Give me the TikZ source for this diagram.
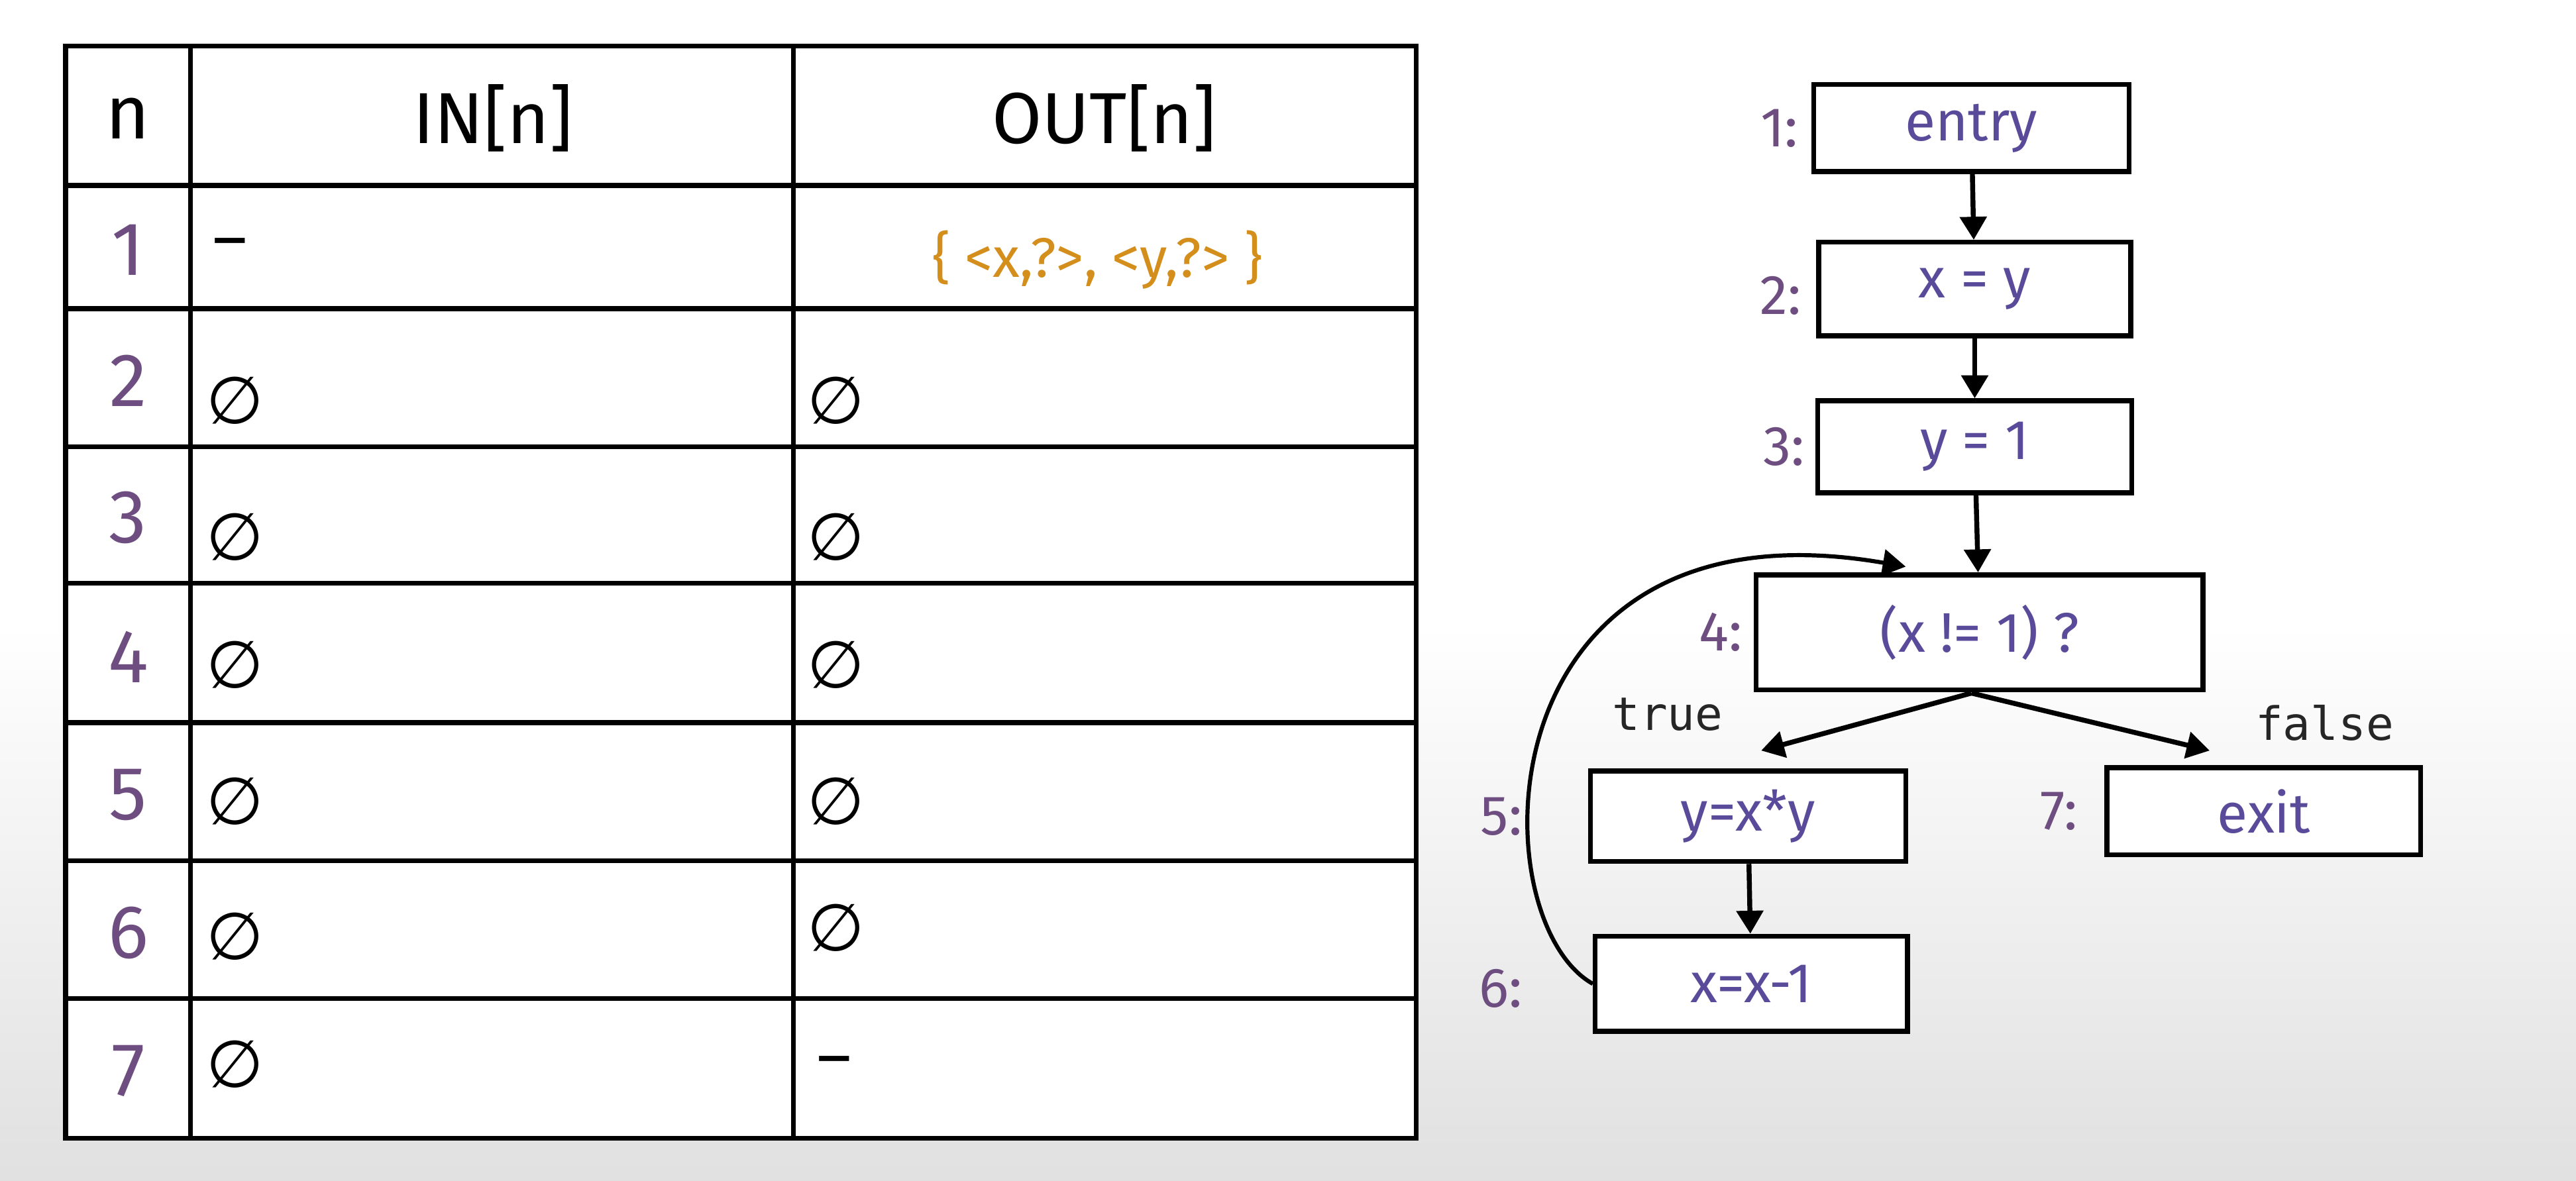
\documentclass[tikz,border=0pt]{standalone}
\usepackage{fontspec}
\setmainfont{Fira Sans}
\setmonofont{DejaVu Sans Mono}
\newfontfamily\symf{DejaVu Sans}
\usetikzlibrary{arrows.meta}
\definecolor{pur}{HTML}{5A4A9A}
\definecolor{lab}{HTML}{6E4E80}
\definecolor{org}{HTML}{D48E1C}
\tikzset{
 box/.style={draw,line width=3pt,fill=white,text=pur,font=\fontsize{34}{38}\selectfont},
 lbl/.style={text=lab,font=\fontsize{34}{38}\selectfont,anchor=east},
 num/.style={text=lab,font=\fontsize{46}{50}\selectfont},
 es/.style={font=\symf\fontsize{40}{44}\selectfont,anchor=west},
 arr/.style={line width=3pt,-{Triangle[length=14pt,width=16pt]}},
 grid/.style={line width=3pt}
}
\begin{document}
\begin{tikzpicture}[x=1pt,y=-1pt]
\useasboundingbox (0,0) rectangle (1568,719);
\shade[top color=white,bottom color=white,middle color=white] (0,0) rectangle (1568,380);
\shade[top color=white,bottom color=black!12] (0,380) rectangle (1568,719);
% table
\fill[white] (40,28) rectangle (862,693);
\draw[grid] (40,28) rectangle (862,693);
\foreach \y in {113,188,272,355,440,524,608} \draw[grid] (40,\y) -- (862,\y);
\draw[grid] (116,28) -- (116,693);
\draw[grid] (483,28) -- (483,693);
\node[font=\fontsize{46}{50}\selectfont] (hn) at (78,72) {n};
\node[font=\fontsize{44}{50}\selectfont] (hin) at (300,72) {IN[n]};
\node[font=\fontsize{44}{50}\selectfont] (hout) at (672,72) {OUT[n]};
\foreach \n/\y in {1/152,2/232,3/315,4/400,5/484,6/568,7/652} \node[num] (r\n) at (78,\y) {\n};
\node[font=\fontsize{40}{44}\selectfont] (in1) at (140,152) {–};
\node[text=org,font=\fontsize{34}{38}\selectfont] (out1) at (668,158) {\{ <x,?>, <y,?> \}};
\foreach \n/\y in {2/244,3/327,4/405,5/488,6/570,7/648} \node[es] (ia\n) at (122,\y) {∅};
\foreach \n/\y in {2/244,3/327,4/405,5/488,6/565} \node[es] (oa\n) at (488,\y) {∅};
\node[font=\fontsize{40}{44}\selectfont] (out7) at (508,650) {–};
% flowchart
\node[box,minimum width=192pt,minimum height=53pt] (b1) at (1200,78) {entry};
\node[box,minimum width=190pt,minimum height=57pt] (b2) at (1202,176) {x = y};
\node[box,minimum width=191pt,minimum height=56pt] (b3) at (1202,272) {y = 1};
\node[box,minimum width=272pt,minimum height=70pt] (b4) at (1205,385) {(x != 1) ?};
\node[box,minimum width=192pt,minimum height=55pt] (b5) at (1064,497) {y=x*y};
\node[box,minimum width=191pt,minimum height=53pt] (b7) at (1378,494) {exit};
\node[box,minimum width=190pt,minimum height=58pt] (b6) at (1066,599) {x=x-1};
\node[lbl] (l1) at (1098,78) {1:};
\node[lbl] (l2) at (1100,180) {2:};
\node[lbl] (l3) at (1102,272) {3:};
\node[lbl] (l4) at (1064,385) {4:};
\node[lbl] (l5) at (930,497) {5:};
\node[lbl] (l7) at (1268,494) {7:};
\node[lbl] (l6) at (930,602) {6:};
\draw[arr] (b1) -- (b2);
\draw[arr] (b2) -- (b3);
\draw[arr] (b3) -- (b4);
\draw[arr] (b5) -- (b6);
\coordinate (sp) at (1200,422);
\draw[arr] (sp) -- (1072,457);
\draw[arr] (sp) -- (1345,457);
\node[font=\ttfamily\fontsize{28}{32}\selectfont,text=black!85] (tt) at (1015,435) {true};
\node[font=\ttfamily\fontsize{28}{32}\selectfont,text=black!85] (ff) at (1415,440) {false};
\draw[arr,line width=2.5pt] (b6.west) .. controls (900,560) and (900,300) .. (1160,345);
\end{tikzpicture}
\end{document}
